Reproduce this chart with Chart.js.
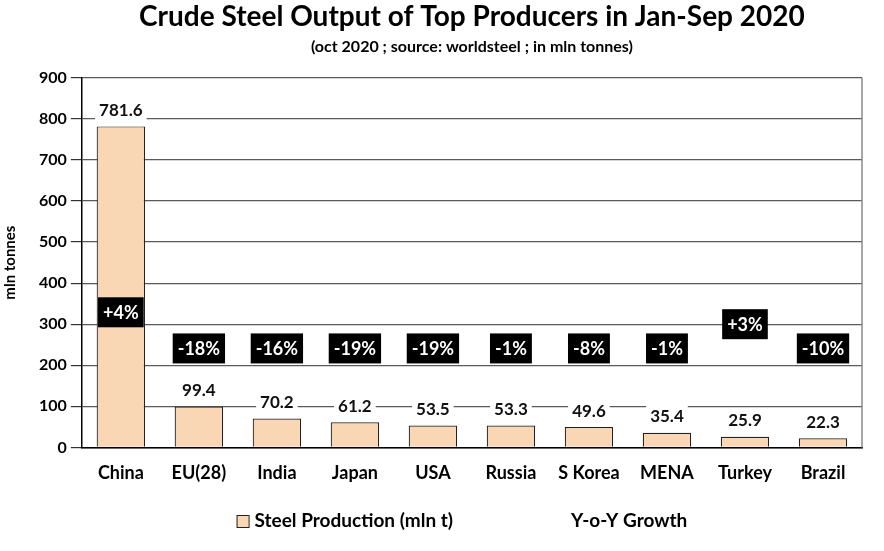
<!DOCTYPE html>
<html>
<head>
<meta charset="utf-8">
<script src="https://cdn.jsdelivr.net/npm/chart.js@4.4.0/dist/chart.umd.min.js"></script>
<style>
  html, body { margin: 0; padding: 0; background: #fff; }
  #wrap { width: 884px; height: 551px; }
</style>
</head>
<body>
<div id="wrap"><canvas id="steelchart"></canvas></div>
<script>
/* data */
const categories = ['China', 'EU(28)', 'India', 'Japan', 'USA', 'Russia', 'S Korea', 'MENA', 'Turkey', 'Brazil'];
const production = [781.6, 99.4, 70.2, 61.2, 53.5, 53.3, 49.6, 35.4, 25.9, 22.3];
const growth = [4, -18, -16, -19, -19, -1, -8, -1, 3, -10];
const yTicks = [0, 100, 200, 300, 400, 500, 600, 700, 800, 900];
const seriesNames = ['Steel Production (mln t)', 'Y-o-Y Growth'];

const FONT = 'Lato, "Open Sans", sans-serif';
const BAR_FILL = 'rgb(250, 215, 180)';

/*grey frame on the right side of the plot area*/
const plotFrame = {
  id: 'plotFrame',
  beforeDatasetsDraw(chart) {
    const a = chart.chartArea;
    const c = chart.ctx;
    c.save();
    c.strokeStyle = '#8a8a8a';
    c.lineWidth = 1.5;
    c.beginPath();
    c.moveTo(a.right, a.top);
    c.lineTo(a.right, a.bottom);
    c.stroke();
    c.restore();
  }
};

/*value labels above the bars and the black growth boxes*/
const barLabels = {
  id: 'barLabels',
  afterDatasetsDraw(chart, args, opts) {
    const c = chart.ctx;
    const y = chart.scales.y;
    const bars = chart.getDatasetMeta(0).data;
    c.save();
    c.textAlign = 'center';
    c.textBaseline = 'middle';
    bars.forEach((bar, i) => {
      // production value
      c.font = 'bold 17px ' + FONT;
      const txt = production[i].toFixed(1);
      const w = c.measureText(txt).width + 8;
      const ty = bar.y - 16;
      c.fillStyle = '#fff';
      c.fillRect(bar.x - w / 2, ty - 11, w, 22);
      c.fillStyle = '#111';
      c.fillText(txt, bar.x, ty);

      // growth box
      const g = growth[i];
      const gt = (g > 0 ? '+' : '') + g + '%';
      c.font = 'bold 18px ' + FONT;
      const gw = c.measureText(gt).width + 10;
      const gy = y.getPixelForValue(opts.levels[i]);
      c.fillStyle = '#000';
      c.fillRect(bar.x - gw / 2, gy - 15, gw, 30);
      c.fillStyle = '#fff';
      c.fillText(gt, bar.x, gy + 1);
    });
    c.restore();
  }
};

/*legend at the bottom, the growth entry has no marker*/
const bottomLegend = {
  id: 'bottomLegend',
  afterDraw(chart, args, opts) {
    const c = chart.ctx;
    const a = chart.chartArea;
    c.save();
    c.font = 'bold 19px ' + FONT;
    c.textBaseline = 'middle';
    c.textAlign = 'left';
    const t1 = c.measureText(seriesNames[0]).width;
    const t2 = c.measureText(seriesNames[1]).width;
    const total = 13 + 5 + t1 + opts.gap + t2;
    let x = (a.left + a.right) / 2 - total / 2 - 10;
    const y = chart.height - 30;
    c.fillStyle = BAR_FILL;
    c.fillRect(x, y - 6, 12, 12);
    c.strokeStyle = '#222';
    c.lineWidth = 1;
    c.strokeRect(x + 0.5, y - 5.5, 12, 12);
    x += 18;
    c.fillStyle = '#000';
    c.fillText(seriesNames[0], x, y);
    x += t1 + opts.gap;
    c.fillText(seriesNames[1], x, y);
    c.restore();
  }
};

window.onload = function () {
  const ctx = document.getElementById('steelchart').getContext('2d');

  new Chart(ctx, {
    type: 'bar',
    data: {
      labels: categories,
      datasets: [{
        label: seriesNames[0],
        data: production,
        backgroundColor: BAR_FILL,
        borderColor: '#222',
        borderWidth: 1.2,
        categoryPercentage: 1,
        barPercentage: 0.62
      }]
    },
    plugins: [plotFrame, barLabels, bottomLegend],
    options: {
      responsive: true,
      maintainAspectRatio: false,
      animation: false,
      layout: {
        padding: { left: 0, right: 22, top: 0, bottom: 60 }
      },
      plugins: {
        barLabels: {
          levels: [329, 241, 241, 241, 241, 241, 241, 241, 300, 241]
        },
        bottomLegend: { gap: 118 },
        title: {
          display: true,
          fullSize: false,
          text: 'Crude Steel Output of Top Producers in Jan-Sep 2020',
          color: '#000',
          font: { family: FONT, size: 28, weight: 'bold' },
          padding: { top: 0, bottom: 2 }
        },
        subtitle: {
          display: true,
          fullSize: false,
          text: '(oct 2020 ; source: worldsteel ; in mln tonnes)',
          color: '#000',
          font: { family: FONT, size: 16, weight: 'bold' },
          padding: { top: 2, bottom: 21 }
        },
        legend: { display: false },
        tooltip: { enabled: false }
      },
      scales: {
        x: {
          grid: { display: false },
          border: { display: true, color: '#000', width: 1.5 },
          ticks: {
            color: '#000',
            font: { family: FONT, size: 18, weight: 'bold' },
            padding: 7
          }
        },
        y: {
          min: 0,
          max: 900,
          afterBuildTicks: axis => { axis.ticks = yTicks.map(v => ({ value: v })); },
          grid: {
            color: '#5a5a5a',
            lineWidth: 1.2,
            tickLength: 11,
            tickColor: '#333'
          },
          border: { display: true, color: '#000', width: 1.5 },
          ticks: {
            color: '#000',
            font: { family: FONT, size: 16, weight: 'bold' },
            padding: 4
          },
          title: {
            display: true,
            text: 'mln tonnes',
            color: '#000',
            font: { family: FONT, size: 15, weight: 'bold' },
            padding: { top: 1, bottom: 16 }
          }
        }
      }
    }
  });
};
</script>
</body>
</html>
